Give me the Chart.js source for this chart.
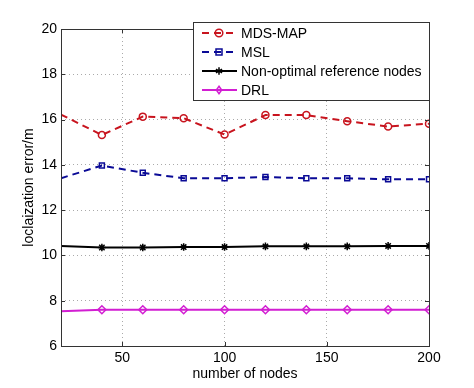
<!DOCTYPE html>
<html>
<head>
<meta charset="utf-8">
<script src="https://cdn.jsdelivr.net/npm/chart.js@4/dist/chart.umd.min.js"></script>
<style>
  html, body { margin: 0; padding: 0; background: #fff; }
  #wrap { width: 474px; height: 388px; }
</style>
</head>
<body>
<div id="wrap"><canvas id="chart"></canvas></div>
<script>
// x values (number of nodes)
const nodes = [20, 40, 60, 80, 100, 120, 140, 160, 180, 200];
const xTicks = [50, 100, 150, 200];

// localization error per method
const mdsMap = [16.22, 15.32, 16.13, 16.06, 15.34, 16.2, 16.2, 15.93, 15.69, 15.82];
const msl = [13.41, 13.97, 13.65, 13.41, 13.41, 13.46, 13.41, 13.41, 13.36, 13.36];
const nonOptimal = [10.42, 10.35, 10.35, 10.37, 10.37, 10.4, 10.4, 10.4, 10.42, 10.42];
const drl = [7.53, 7.6, 7.6, 7.6, 7.6, 7.6, 7.6, 7.6, 7.6, 7.6];

const FONT = 'Arial, "Liberation Sans", Helvetica, sans-serif';
const FSIZE = 14;

const toXY = (vals) => nodes.map((n, i) => ({ x: n, y: vals[i] }));
// first sample has no marker (line comes in from the left edge)
const markerRadius = (r) => (ctx) => (ctx.dataIndex === 0 ? 0 : r);

const mkSeries = (label, vals, color, dash, style, r) => ({
  label,
  data: toXY(vals),
  borderColor: color,
  backgroundColor: 'rgba(0,0,0,0)',
  borderWidth: 2,
  borderDash: dash,
  pointStyle: style,
  pointRadius: markerRadius(r),
  pointBorderColor: color,
  pointBackgroundColor: 'rgba(0,0,0,0)',
  pointBorderWidth: 1.5,
  tension: 0,
});

// simple marker painter, used for the legend
const drawMarker = (ctx, style, x, y, r) => {
  ctx.beginPath();
  if (style === 'circle') {
    ctx.arc(x, y, r, 0, Math.PI * 2);
  } else if (style === 'rect') {
    ctx.rect(x - r, y - r, r * 2, r * 2);
  } else if (style === 'rectRot') {
    ctx.moveTo(x, y - r); ctx.lineTo(x + r * 0.7, y); ctx.lineTo(x, y + r); ctx.lineTo(x - r * 0.7, y); ctx.closePath();
  } else if (style === 'star') {
    ctx.moveTo(x, y - r); ctx.lineTo(x, y + r);
    const d = r * 0.8;
    ctx.moveTo(x - d, y - d * 0.6); ctx.lineTo(x + d, y + d * 0.6);
    ctx.moveTo(x - d, y + d * 0.6); ctx.lineTo(x + d, y - d * 0.6);
  }
  ctx.stroke();
};

// frame, inward tick marks and the boxed legend
const framePlugin = {
  id: 'frame',
  afterDraw(chart) {
    const { ctx, chartArea: a, scales } = chart;
    ctx.save();
    ctx.strokeStyle = '#333';
    ctx.lineWidth = 1;
    ctx.setLineDash([]);
    ctx.strokeRect(a.left + 0.5, a.top + 0.5, a.right - a.left, a.bottom - a.top);
    ctx.beginPath();
    scales.x.ticks.forEach((t) => {
      const px = Math.round(scales.x.getPixelForValue(t.value)) + 0.5;
      ctx.moveTo(px, a.bottom); ctx.lineTo(px, a.bottom - 4);
      ctx.moveTo(px, a.top); ctx.lineTo(px, a.top + 4);
    });
    scales.y.ticks.forEach((t) => {
      const py = Math.round(scales.y.getPixelForValue(t.value)) + 0.5;
      ctx.moveTo(a.left, py); ctx.lineTo(a.left + 4, py);
      ctx.moveTo(a.right, py); ctx.lineTo(a.right - 4, py);
    });
    ctx.stroke();

    // legend box
    const bx = 193; const by = a.top - 7;
    const bw = a.right - bx; const bh = 78;
    ctx.fillStyle = '#fff';
    ctx.fillRect(bx, by, bw, bh);
    ctx.strokeStyle = '#333';
    ctx.strokeRect(bx + 0.5, by + 0.5, bw, bh);
    ctx.font = `${FSIZE}px ${FONT}`;
    ctx.textBaseline = 'middle';
    chart.data.datasets.forEach((ds, i) => {
      const y = by + 11 + i * 19;
      ctx.strokeStyle = ds.borderColor;
      ctx.lineWidth = 2;
      ctx.setLineDash(ds.borderDash || []);
      ctx.beginPath();
      ctx.moveTo(202, y); ctx.lineTo(237, y);
      ctx.stroke();
      ctx.setLineDash([]);
      ctx.lineWidth = 1.5;
      drawMarker(ctx, ds.pointStyle, 219, y, ds.pointStyle === 'rect' ? 3 : 3.8);
      ctx.fillStyle = '#000';
      ctx.fillText(ds.label, 241, y + 1);
    });
    ctx.restore();
  },
};

new Chart(document.getElementById('chart'), {
  type: 'line',
  data: {
    datasets: [
      mkSeries('MDS-MAP', mdsMap, '#c8141e', [7, 5], 'circle', 3.5),
      mkSeries('MSL', msl, '#0a0a96', [7, 5], 'rect', 3.5),
      mkSeries('Non-optimal reference nodes', nonOptimal, '#000000', [], 'star', 3.8),
      mkSeries('DRL', drl, '#d21ed2', [], 'rectRot', 4),
    ],
  },
  options: {
    responsive: true,
    maintainAspectRatio: false,
    animation: false,
    layout: { padding: { left: 0, right: 45, top: 29, bottom: 0 } },
    plugins: { legend: { display: false }, tooltip: { enabled: false } },
    scales: {
      x: {
        type: 'linear',
        min: 20,
        max: 200,
        afterBuildTicks: (scale) => { scale.ticks = xTicks.map((v) => ({ value: v })); },
        afterFit: (scale) => { scale.height = 42; },
        grid: { color: '#aaa', drawTicks: false, lineWidth: 1 },
        border: { display: false, dash: [1, 3] },
        ticks: { color: '#000', padding: 4, font: { family: FONT, size: FSIZE } },
        title: {
          display: true,
          text: 'number of nodes',
          color: '#000',
          padding: { top: 0, bottom: 5 },
          font: { family: FONT, size: FSIZE },
        },
      },
      y: {
        min: 6,
        max: 20,
        ticks: { stepSize: 2, color: '#000', padding: 4, font: { family: FONT, size: FSIZE } },
        afterFit: (scale) => { scale.width = 61; },
        grid: { color: '#aaa', drawTicks: false, lineWidth: 1 },
        border: { display: false, dash: [1, 3] },
        title: {
          display: true,
          text: 'loclaization error/m',
          color: '#000',
          padding: { top: 21, bottom: 0 },
          font: { family: FONT, size: FSIZE },
        },
      },
    },
  },
  plugins: [framePlugin],
});
</script>
</body>
</html>
